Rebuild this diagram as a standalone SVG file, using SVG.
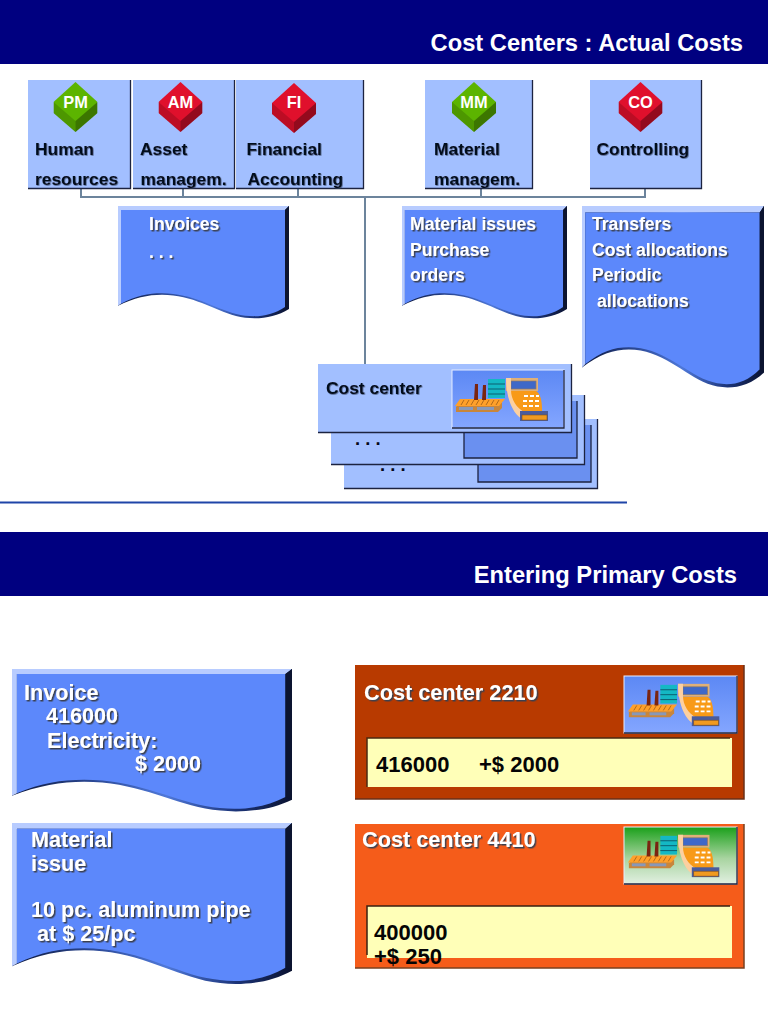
<svg xmlns="http://www.w3.org/2000/svg" width="768" height="1024" viewBox="0 0 768 1024">
<style>
text{font-family:"Liberation Sans",Arial,sans-serif;font-weight:700}
.hd{fill:#000080}
.ht{fill:#fff;font-size:23.7px}
.box{fill:#a2bfff;stroke:none}
.edge{fill:none;stroke:#1c2340;stroke-width:1.3}
.lb{fill:#06081a;font-size:17.4px;filter:url(#tk)}
.dt{fill:#fff;font-size:17.6px;filter:url(#ts)}
.dl{fill:#fff;font-size:21.6px;filter:url(#ts)}
.ct{fill:#fff;font-size:21.7px;filter:url(#ts)}
.val{fill:#050505;font-size:22px}
.bt{fill:#fff;font-size:16.4px;text-anchor:middle}
.dots{fill:#06081a;font-size:18.5px}
.con{fill:none;stroke:#6c849c;stroke-width:2}
</style>
<defs>
<filter id="ts" x="-10%" y="-20%" width="120%" height="150%"><feDropShadow dx="1.5" dy="1.5" stdDeviation="0.7" flood-color="#3a3f50" flood-opacity="1"/></filter>
<filter id="tk" x="-10%" y="-20%" width="120%" height="150%"><feDropShadow dx="0.7" dy="0.7" stdDeviation="0.6" flood-color="#30405a" flood-opacity="0.8"/></filter>
<linearGradient id="edgeg" x1="0" x2="1" y1="0" y2="0"><stop offset="0" stop-color="#0c1638"/><stop offset="0.3" stop-color="#2c4a98"/><stop offset="0.55" stop-color="#4f78d8"/><stop offset="0.8" stop-color="#1c3478"/><stop offset="1" stop-color="#0a1230"/></linearGradient>
<linearGradient id="g1" x1="0" x2="0" y1="0" y2="1"><stop offset="0" stop-color="#5c88f4"/><stop offset="1" stop-color="#84a6ff"/></linearGradient>
<linearGradient id="g2" x1="0" x2="0" y1="0" y2="1"><stop offset="0" stop-color="#1aa01a"/><stop offset="0.55" stop-color="#a8d4a0"/><stop offset="1" stop-color="#e2f0e2"/></linearGradient>
<symbol id="doc" viewBox="0 0 171 114" preserveAspectRatio="none">
<path fill="url(#edgeg)" d="M0,99C16,91 30,88 44,88C75,88 95,103 118,109C135,113 155,112 171,102V0H0Z"/>
<path fill="#b8ccff" d="M0,99L3,97V4H167L171,0H0Z"/>
<path fill="#5c88fb" d="M3,97C18,89 30,86.500 44,86.500C75,86.500 95,101 118,107C135,111 152,110 167,100V4H3Z"/>
<path fill="#0c1430" d="M167,4L171,0V102L167,100Z"/>
</symbol>
<symbol id="reg" viewBox="0 0 113 58">
<path fill="#c8863c" d="M8,33H50V38L46,42H4V37Z"/>
<path fill="#ffa02a" d="M8,29H53L47,36H3Z"/>
<path stroke="#b06a1c" stroke-width="1" d="M12,30L9,35M17,30L14,35M22,30L19,35M27,30L24,35M32,30L29,35M37,30L34,35M42,30L39,35M47,30L44,35"/>
<rect x="7" y="37" width="14" height="3" fill="#8898b8"/><rect x="25" y="37" width="17" height="3" fill="#8898b8"/>
<path fill="#7a2410" d="M23,14H26V30H22ZM31,15H34V30H30Z"/>
<path fill="#14b8c4" d="M36,9H53V28H36Z"/>
<path stroke="#0c5f70" stroke-width="1" d="M36,14H53M36,19H53M36,24H53"/>
<rect x="54" y="8" width="32" height="13" fill="#e0b078"/>
<rect x="59" y="11" width="25" height="8" fill="#3f68c8" stroke="#8a7a6a" stroke-width="0.700"/>
<path fill="#f89a18" d="M58,21H84C88,23 90,30 90,40V44H72V42C64,38 58,30 58,21Z"/>
<path fill="#fcd0a0" d="M54,8H59V20C59,30 65,38 72,42V50C62,46 54,30 54,8Z"/>
<path fill="#fff" d="M72,25h4v2h-4ZM78,25h4v2h-4ZM84,25h3v2h-3ZM71,30h4v2h-4ZM77,30h4v2h-4ZM83,30h4v2h-4ZM71,35h4v2h-4ZM77,35h4v2h-4ZM83,35h4v2h-4Z"/>
<rect x="68" y="41" width="28" height="10" fill="#4a5c9c"/>
<rect x="70" y="45" width="25" height="5" fill="#f09a20" stroke="#805020" stroke-width="0.600"/>
</symbol>
<symbol id="gem" viewBox="0 0 44 50">
<path fill="currentColor" d="M22,0L44,20V31L22,50L0,31V20Z"/>
<path fill="#000" fill-opacity="0.16" d="M0,20L22,39V50L0,31Z"/>
<path fill="#000" fill-opacity="0.34" d="M44,20L22,39V50L44,31Z"/>
</symbol>
</defs>

<rect width="768" height="1024" fill="#fff"/>

<g id="header-top"><rect class="hd" x="0" y="0" width="768" height="64"/><text class="ht" x="743" y="51" text-anchor="end">Cost Centers : Actual Costs</text></g>
<g id="header-bottom"><rect class="hd" x="0" y="532" width="768" height="64"/><text class="ht" x="737" y="583" text-anchor="end">Entering Primary Costs</text></g>

<g id="connectors">
<path class="con" d="M81,189V197H645V189M183,189V197M298,189V197M481,189V197M365,197V364"/>
<path d="M0,502.500H627" fill="none" stroke="#1f45a8" stroke-width="2"/>
</g>

<g id="node-pm"><rect class="box" x="28" y="80" width="103" height="109"/><path class="edge" d="M130.500,80V188.500H28"/><use href="#gem" x="53.500" y="82" width="44" height="50" color="#5cb400"/><text class="bt" x="75.500" y="108">PM</text><text class="lb" x="35" y="155">Human</text><text class="lb" x="35" y="185">resources</text></g>
<g id="node-am"><rect class="box" x="133" y="80" width="102" height="109"/><path class="edge" d="M234.500,80V188.500H133"/><use href="#gem" x="158.500" y="82" width="44" height="50" color="#e0102c"/><text class="bt" x="180.500" y="108">AM</text><text class="lb" x="140" y="155">Asset</text><text class="lb" x="140.500" y="185">managem.</text></g>
<g id="node-fi"><rect class="box" x="236" y="80" width="128" height="109"/><path class="edge" d="M363.500,80V188.500H236"/><use href="#gem" x="272" y="83" width="44" height="50" color="#e0102c"/><text class="bt" x="294" y="108">FI</text><text class="lb" x="246.500" y="155">Financial</text><text class="lb" x="247.500" y="185">Accounting</text></g>
<g id="node-mm"><rect class="box" x="425" y="80" width="108" height="109"/><path class="edge" d="M532.500,80V188.500H425"/><use href="#gem" x="452" y="82" width="44" height="50" color="#5cb400"/><text class="bt" x="474" y="108">MM</text><text class="lb" x="434" y="155">Material</text><text class="lb" x="434" y="185">managem.</text></g>
<g id="node-co"><rect class="box" x="590" y="80" width="112" height="109"/><path class="edge" d="M701.500,80V188.500H590"/><use href="#gem" x="618.500" y="82" width="44" height="50" color="#e0102c"/><text class="bt" x="640.500" y="108">CO</text><text class="lb" x="596.500" y="155">Controlling</text></g>

<g id="doc-invoices"><use href="#doc" x="118" y="206" width="171" height="115"/><text class="dt" x="149" y="230">Invoices</text><text class="dt" x="149" y="258">. . .</text></g>
<g id="doc-material"><use href="#doc" x="402" y="206" width="165" height="115"/><text class="dt" x="410" y="230">Material issues</text><text class="dt" x="410" y="256">Purchase</text><text class="dt" x="410" y="281">orders</text></g>
<g id="doc-transfers"><use href="#doc" x="582" y="206" width="182" height="186"/><text class="dt" x="592" y="230">Transfers</text><text class="dt" x="592" y="256">Cost allocations</text><text class="dt" x="592" y="281">Periodic</text><text class="dt" x="597" y="307">allocations</text></g>

<g id="node-cc3"><rect class="box" x="344" y="419" width="254" height="70"/><path class="edge" d="M597.500,419V488.500H344"/><rect x="478" y="425" width="113" height="57" fill="#6a90f0"/><path class="edge" d="M591,425V482H478V465"/><text class="dots" x="380" y="471">. . .</text></g>
<g id="node-cc2"><rect class="box" x="331" y="395" width="254" height="70"/><path class="edge" d="M584.500,395V464.500H331"/><rect x="464" y="401" width="113" height="57" fill="#6a90f0"/><path class="edge" d="M577,401V458H464V433"/><text class="dots" x="355" y="445">. . .</text></g>
<g id="node-cc1"><rect class="box" x="318" y="364" width="254" height="69"/><path class="edge" d="M571.500,364V432.500H318"/><rect x="452" y="370" width="112" height="58" fill="url(#g1)" stroke="#e4ecff" stroke-width="1"/><path class="edge" d="M564,370V428H452"/><use href="#reg" x="452" y="370" width="113" height="58"/><text class="lb" x="326" y="394">Cost center</text></g>

<g id="doc-invoice"><use href="#doc" x="12" y="669" width="280" height="146"/><text class="dl" x="24" y="700">Invoice</text><text class="dl" x="46" y="723">416000</text><text class="dl" x="47" y="748">Electricity:</text><text class="dl" x="135" y="771">$ 2000</text></g>
<g id="doc-issue"><use href="#doc" x="12" y="823" width="280" height="165"/><text class="dl" x="31" y="847">Material</text><text class="dl" x="31" y="871">issue</text><text class="dl" x="31" y="917">10 pc. aluminum pipe</text><text class="dl" x="37" y="941">at $ 25/pc</text></g>

<g id="node-cc2210"><rect x="355" y="665" width="389" height="134" fill="#b83a00"/><path d="M744,665V799H355" fill="none" stroke="#6a3018" stroke-width="1.500"/><rect x="624" y="676" width="113" height="57" fill="url(#g1)" stroke="#e8eeff" stroke-width="1"/><path class="edge" d="M737,676V733H624"/><use href="#reg" x="624" y="676" width="113" height="57"/><rect x="367" y="738" width="365" height="49" fill="#ffffb8"/><path d="M367,787V738H730" fill="none" stroke="#4a2a10" stroke-width="1.500"/><text class="ct" x="364" y="700">Cost center 2210</text><text class="val" x="376" y="772">416000</text><text class="val" x="479" y="772">+$ 2000</text></g>
<g id="node-cc4410"><rect x="355" y="824" width="389" height="144" fill="#f55c1a"/><path d="M744,824V968H355" fill="none" stroke="#7a4020" stroke-width="1.500"/><rect x="624" y="827" width="113" height="57" fill="url(#g2)" stroke="#e8eeff" stroke-width="1"/><path class="edge" d="M737,827V884H624"/><use href="#reg" x="624" y="827" width="113" height="57"/><rect x="367" y="906" width="365" height="52" fill="#ffffb8"/><path d="M367,955V906H730" fill="none" stroke="#3a2010" stroke-width="1.500"/><text class="ct" x="362" y="847">Cost center 4410</text><text class="val" x="374" y="940">400000</text><text class="val" x="374" y="964">+$ 250</text></g>
</svg>
